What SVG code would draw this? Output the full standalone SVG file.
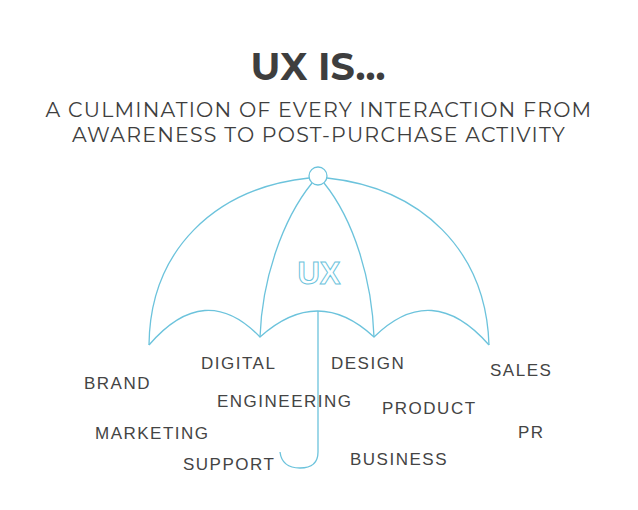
<svg xmlns="http://www.w3.org/2000/svg" width="638" height="510" viewBox="0 0 638 510">
<style>
.u{fill:none;stroke:#6cc3dc;stroke-width:1.3}
.t{font-family:"Montserrat","Liberation Sans",sans-serif;fill:#3e3e3e}
.l{font-family:"Liberation Sans",sans-serif;font-size:17px;fill:#444;letter-spacing:1.5px}
</style>
<rect width="638" height="510" fill="#fff"/>
<text class="t" x="318" y="80" text-anchor="middle" font-size="38" font-weight="bold">UX IS...</text>
<text class="t" x="319" y="117" text-anchor="middle" font-size="20.5" letter-spacing="1.2">A CULMINATION OF  EVERY INTERACTION FROM</text>
<text class="t" x="319" y="142" text-anchor="middle" font-size="20.5" letter-spacing="1.2">AWARENESS TO POST-PURCHASE ACTIVITY</text>
<g id="umbrella">
<circle class="u" cx="318" cy="176" r="9"/>
<path class="u" d="M149,345 C150,250 215,188 309,178"/>
<path class="u" d="M327,178 C421,188 486,250 489,345"/>
<path class="u" d="M312,183 C282,220 262,280 260,337"/>
<path class="u" d="M324,183 C354,220 372,280 374,337"/>
<path class="u" d="M149,345 Q205,280 260,337 Q318,285 374,337 Q432,280 489,345"/>
<path class="u" d="M318,311 V452 Q318,468 300,468 Q282,468 280,452"/>
<text x="319" y="284" text-anchor="middle" font-family="Liberation Sans,sans-serif" font-weight="bold" font-size="31" fill="none" stroke="#6cc3dc" stroke-width="1">UX</text>
</g>
<g id="labels">
<text class="l" x="84" y="389">BRAND</text>
<text class="l" x="201" y="369">DIGITAL</text>
<text class="l" x="331" y="369">DESIGN</text>
<text class="l" x="490" y="376">SALES</text>
<text class="l" x="217" y="407">ENGINEERING</text>
<text class="l" x="382" y="414">PRODUCT</text>
<text class="l" x="95" y="439">MARKETING</text>
<text class="l" x="518" y="438">PR</text>
<text class="l" x="183" y="470">SUPPORT</text>
<text class="l" x="350" y="465">BUSINESS</text>
</g>
</svg>
